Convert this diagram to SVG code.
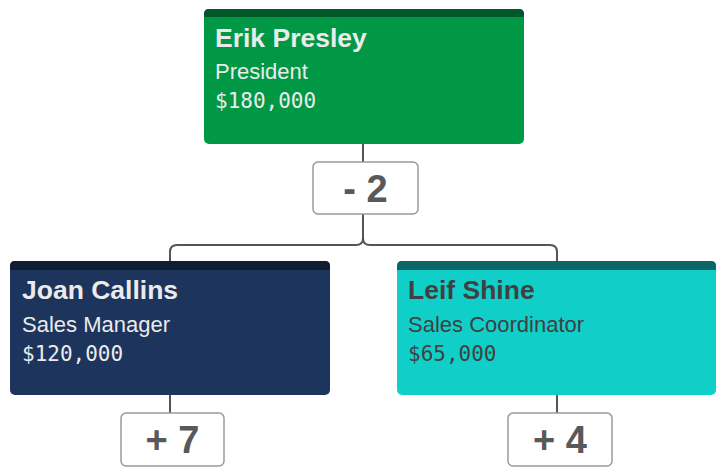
<svg xmlns="http://www.w3.org/2000/svg" width="725" height="474" viewBox="0 0 725 474">
<style>
.name{font-family:"Liberation Sans",Arial,sans-serif;font-weight:bold;font-size:26.5px}
.role{font-family:"Liberation Sans",Arial,sans-serif;font-size:22px}
.pay{font-family:"DejaVu Sans Mono","Liberation Mono",monospace;font-size:21px}
.light{fill:#ebebeb}
.dark{fill:#404040}
.count rect{fill:#fff;stroke:#9a9a9a;stroke-width:1.5}
.count text{font-family:"Liberation Sans",Arial,sans-serif;font-weight:bold;font-size:38px;fill:#595959;text-anchor:middle}
.conn path{fill:none;stroke:#555;stroke-width:2}
</style>
<rect width="725" height="474" fill="#fff"/>
<g class="conn" id="connectors">
<path d="M363 144V162"/>
<path d="M363 214V238Q363 245 356 245H177Q170 245 170 252V262"/>
<path d="M363 238Q363 245 370 245H550Q557 245 557 252V262"/>
<path d="M170 395V413"/>
<path d="M557 395V413"/>
</g>
<g id="erik">
<rect x="204" y="9" width="320" height="135" rx="5" fill="#009845"/>
<path d="M204 17V14Q204 9 209 9H519Q524 9 524 14V17Z" fill="#00572a"/>
<text class="name light" x="215" y="47">Erik Presley</text>
<text class="role light" x="215" y="79">President</text>
<text class="pay light" x="215" y="108">$180,000</text>
</g>
<g id="count-erik" class="count">
<rect x="313" y="162" width="105" height="52" rx="5"/>
<text x="365.5" y="202">- 2</text>
</g>
<g id="joan">
<rect x="10" y="261" width="320" height="134" rx="5" fill="#1d345d"/>
<path d="M10 270V266Q10 261 15 261H325Q330 261 330 266V270Z" fill="#111d31"/>
<text class="name light" x="22" y="299">Joan Callins</text>
<text class="role light" x="22" y="332">Sales Manager</text>
<text class="pay light" x="22" y="361">$120,000</text>
</g>
<g id="leif">
<rect x="397" y="261" width="319" height="134" rx="5" fill="#10cfc9"/>
<path d="M397 270V266Q397 261 402 261H711Q716 261 716 266V270Z" fill="#0a6764"/>
<text class="name dark" x="408" y="299">Leif Shine</text>
<text class="role dark" x="408" y="332">Sales Coordinator</text>
<text class="pay dark" x="408" y="361">$65,000</text>
</g>
<g id="count-joan" class="count">
<rect x="121" y="413" width="103" height="53" rx="5"/>
<text x="172.5" y="453">+ 7</text>
</g>
<g id="count-leif" class="count">
<rect x="508" y="413" width="104" height="53" rx="5"/>
<text x="560" y="453">+ 4</text>
</g>
</svg>
